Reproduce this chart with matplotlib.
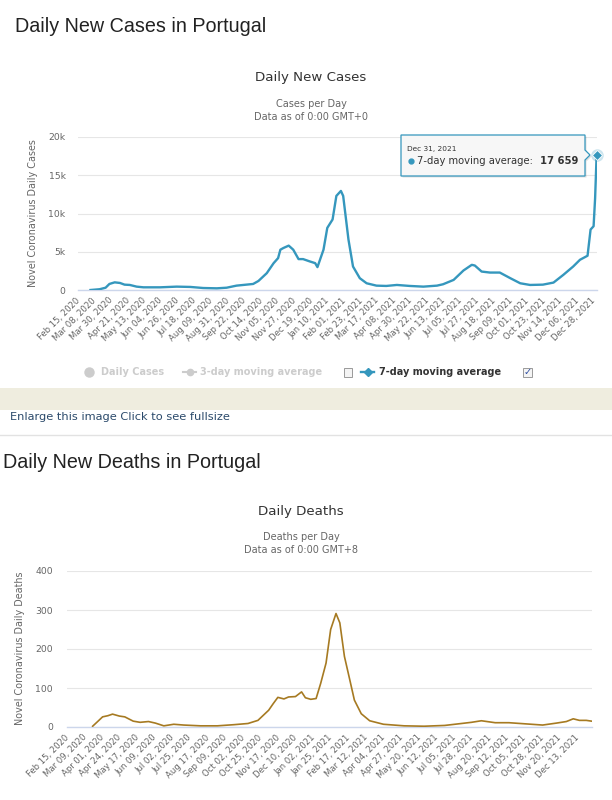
import matplotlib
matplotlib.use('Agg')
import matplotlib.pyplot as plt
import pandas as pd
from matplotlib.lines import Line2D
from matplotlib.patches import Rectangle, Polygon

W, H = 612, 800
START = pd.Timestamp('2020-02-15')
END = pd.Timestamp('2021-12-31')

# ---------------- data ----------------
case_dates = ["2020-03-02", "2020-03-14", "2020-03-22", "2020-03-27", "2020-04-03", "2020-04-10",
              "2020-04-16", "2020-04-23", "2020-05-02", "2020-05-11", "2020-06-02", "2020-06-24",
              "2020-07-12", "2020-07-29", "2020-08-16", "2020-08-29", "2020-09-11", "2020-10-03",
              "2020-10-10", "2020-10-21", "2020-10-30", "2020-11-05", "2020-11-08", "2020-11-12",
              "2020-11-19", "2020-11-25", "2020-12-02", "2020-12-08", "2020-12-17", "2020-12-24",
              "2020-12-27", "2021-01-04", "2021-01-09", "2021-01-16", "2021-01-21", "2021-01-27",
              "2021-01-30", "2021-02-06", "2021-02-12", "2021-02-21", "2021-03-02", "2021-03-15",
              "2021-03-28", "2021-04-11", "2021-04-28", "2021-05-16", "2021-06-03", "2021-06-11",
              "2021-06-25", "2021-07-08", "2021-07-19", "2021-07-23", "2021-08-01", "2021-08-12",
              "2021-08-25", "2021-09-08", "2021-09-21", "2021-10-04", "2021-10-21", "2021-11-04",
              "2021-11-17", "2021-11-30", "2021-12-09", "2021-12-19", "2021-12-23", "2021-12-27",
              "2021-12-29", "2021-12-31"]
case_values = [0, 100, 300, 790, 1000, 920, 700, 660, 440, 350, 350, 440,
               400, 260, 220, 300, 570, 790, 1180, 2200, 3500, 4170, 5270, 5490,
               5800, 5270, 4040, 4040, 3730, 3510, 2990, 5270, 8120, 9220, 12300, 12950,
               12300, 6590, 3070, 1540, 880, 570, 530, 660, 530, 440, 570, 750,
               1320, 2550, 3290, 3200, 2410, 2280, 2280, 1540, 880, 660, 700, 970,
               1980, 3070, 3950, 4480, 7900, 8340, 12000, 17659]

death_dates = ["2020-03-19", "2020-03-25", "2020-04-01", "2020-04-08", "2020-04-14", "2020-04-23",
               "2020-04-30", "2020-05-11", "2020-05-20", "2020-05-31", "2020-06-09", "2020-06-20",
               "2020-07-03", "2020-07-16", "2020-08-07", "2020-08-29", "2020-09-20", "2020-10-08",
               "2020-10-21", "2020-11-04", "2020-11-10", "2020-11-16", "2020-11-24", "2020-11-30",
               "2020-12-09", "2020-12-17", "2020-12-22", "2020-12-29", "2021-01-05", "2021-01-11",
               "2021-01-18", "2021-01-24", "2021-01-31", "2021-02-05", "2021-02-11", "2021-02-18",
               "2021-02-24", "2021-03-05", "2021-03-16", "2021-04-03", "2021-04-30", "2021-05-26",
               "2021-06-22", "2021-07-14", "2021-07-27", "2021-08-09", "2021-08-27", "2021-09-14",
               "2021-10-06", "2021-10-28", "2021-11-15", "2021-11-28", "2021-12-07", "2021-12-15",
               "2021-12-24", "2021-12-31"]
death_values = [2, 13, 26, 29, 33, 28, 26, 15, 12, 14, 10, 3,
                7, 5, 3, 3, 6, 9, 17, 43, 60, 76, 72, 77,
                78, 90, 75, 71, 73, 112, 164, 250, 291, 267, 181, 121,
                69, 34, 16, 7, 3, 2, 4, 9, 12, 16, 11, 11,
                8, 5, 10, 14, 21, 17, 17, 15]

case_tick_labels = ["Feb 15, 2020", "Mar 08, 2020", "Mar 30, 2020", "Apr 21, 2020", "May 13, 2020",
                    "Jun 04, 2020", "Jun 26, 2020", "Jul 18, 2020", "Aug 09, 2020", "Aug 31, 2020",
                    "Sep 22, 2020", "Oct 14, 2020", "Nov 05, 2020", "Nov 27, 2020", "Dec 19, 2020",
                    "Jan 10, 2021", "Feb 01, 2021", "Feb 23, 2021", "Mar 17, 2021", "Apr 08, 2021",
                    "Apr 30, 2021", "May 22, 2021", "Jun 13, 2021", "Jul 05, 2021", "Jul 27, 2021",
                    "Aug 18, 2021", "Sep 09, 2021", "Oct 01, 2021", "Oct 23, 2021", "Nov 14, 2021",
                    "Dec 06, 2021", "Dec 28, 2021"]
death_tick_labels = ["Feb 15, 2020", "Mar 09, 2020", "Apr 01, 2020", "Apr 24, 2020", "May 17, 2020",
                     "Jun 09, 2020", "Jul 02, 2020", "Jul 25, 2020", "Aug 17, 2020", "Sep 09, 2020",
                     "Oct 02, 2020", "Oct 25, 2020", "Nov 17, 2020", "Dec 10, 2020", "Jan 02, 2021",
                     "Jan 25, 2021", "Feb 17, 2021", "Mar 12, 2021", "Apr 04, 2021", "Apr 27, 2021",
                     "May 20, 2021", "Jun 12, 2021", "Jul 05, 2021", "Jul 28, 2021", "Aug 20, 2021",
                     "Sep 12, 2021", "Oct 05, 2021", "Oct 28, 2021", "Nov 20, 2021", "Dec 13, 2021"]

case_yticks = [0, 5000, 10000, 15000, 20000]
case_ytick_labels = ["0", "5k", "10k", "15k", "20k"]
death_yticks = [0, 100, 200, 300, 400]
death_ytick_labels = ["0", "100", "200", "300", "400"]

tooltip_date = "Dec 31, 2021"
tooltip_series = "7-day moving average: "
tooltip_value = "17 659"

# ---------------- style ----------------
CASE_COLOR = '#3597bd'
DEATH_COLOR = '#a67a22'
GRID = '#e6e6e6'
AXIS = '#ccd6eb'
TICK = '#666666'


def fx(x):
    return x / W


def fy(y):
    return 1 - y / H


def day_index(dates):
    return (pd.to_datetime(pd.Series(dates)) - START).dt.days.to_numpy()


def label_index(labels):
    return (pd.to_datetime(pd.Series(labels), format="%b %d, %Y") - START).dt.days.to_numpy()


ndays = (END - START).days

fig = plt.figure(figsize=(W / 100, H / 100), dpi=100)
fig.patch.set_facecolor('white')


def style_axis(ax, yticks, ylabels, xlabels, ymax, ypad):
    ax.set_xlim(-0.5, ndays + 0.5)
    ax.set_ylim(0, ymax)
    for s in ['top', 'right', 'left']:
        ax.spines[s].set_visible(False)
    ax.spines['bottom'].set_color(AXIS)
    ax.spines['bottom'].set_linewidth(1.0)
    ax.set_yticks(yticks)
    ax.set_yticklabels(ylabels, fontsize=6.7, color=TICK)
    ax.yaxis.grid(True, color=GRID, linewidth=0.8)
    ax.set_axisbelow(True)
    ax.tick_params(axis='y', length=0, pad=ypad)
    ax.set_xticks(label_index(xlabels))
    ax.set_xticklabels(xlabels, rotation=45, ha='right', va='center',
                       rotation_mode='anchor', fontsize=6.1, color=TICK)
    ax.tick_params(axis='x', length=0, pad=6.5)


# ---------------- page texts ----------------
fig.text(fx(15), fy(27), "Daily New Cases in Portugal", fontsize=14.2,
         family='Liberation Sans', color='#222222', ha='left', va='center')

fig.text(fx(311), fy(78), "Daily New Cases", fontsize=9.6, color='#333333', ha='center', va='center')
fig.text(fx(311), fy(104), "Cases per Day", fontsize=7.0, color='#666666', ha='center', va='center')
fig.text(fx(311), fy(117), "Data as of 0:00 GMT+0", fontsize=7.0, color='#666666', ha='center', va='center')
fig.text(fx(33), fy(213), "Novel Coronavirus Daily Cases", fontsize=6.9, color='#666666',
         rotation=90, ha='center', va='center')

# ---------------- cases chart ----------------
ax1 = fig.add_axes([fx(78), fy(290), fx(597) - fx(78), fy(137) - fy(290)])
style_axis(ax1, case_yticks, case_ytick_labels, case_tick_labels, 20000, 9)
cx = day_index(case_dates)
ax1.plot(cx, case_values, color=CASE_COLOR, linewidth=1.7, solid_joinstyle='round', zorder=3)
# hovered last point
ax1.plot(cx[-1], case_values[-1], marker='o', markersize=9, color=CASE_COLOR, alpha=0.25,
         markeredgewidth=0, zorder=4, clip_on=False)
ax1.plot(cx[-1], case_values[-1], marker='D', markersize=5, color=CASE_COLOR,
         markeredgecolor='white', markeredgewidth=0.6, zorder=5, clip_on=False)

# tooltip
tt = [(401, 135), (585, 135), (585, 150), (590, 155), (585, 160), (585, 176), (401, 176)]
shadow = Polygon([(fx(x + 1.5), fy(y + 1.5)) for x, y in tt], closed=True, transform=fig.transFigure,
                 facecolor='#000000', alpha=0.12, edgecolor='none', zorder=8)
box = Polygon([(fx(x), fy(y)) for x, y in tt], closed=True, transform=fig.transFigure,
              facecolor='#f7f7f7', edgecolor=CASE_COLOR, linewidth=0.9, zorder=9)
fig.add_artist(shadow)
fig.add_artist(box)
fig.text(fx(407), fy(149), tooltip_date, fontsize=5.3, color='#333333', ha='left', va='center', zorder=10)
fig.add_artist(Line2D([fx(411)], [fy(161)], marker='o', markersize=3.5, color=CASE_COLOR,
                      linestyle='none', transform=fig.transFigure, zorder=10))
fig.text(fx(417), fy(161), tooltip_series, fontsize=7.2, color='#333333', ha='left', va='center', zorder=10)
fig.text(fx(578), fy(161), tooltip_value, fontsize=7.2, fontweight='bold', color='#333333',
         ha='right', va='center', zorder=10)

# legend
LEG_Y = 372
GREY = '#cccccc'
fig.add_artist(Line2D([fx(89)], [fy(LEG_Y)], marker='o', markersize=6.5, color=GREY,
                      linestyle='none', transform=fig.transFigure))
fig.text(fx(101), fy(LEG_Y), "Daily Cases", fontsize=7.0, fontweight='bold', color=GREY,
         ha='left', va='center')
fig.add_artist(Line2D([fx(183), fx(196)], [fy(LEG_Y), fy(LEG_Y)], color=GREY, linewidth=1.5,
                      transform=fig.transFigure))
fig.add_artist(Line2D([fx(189.5)], [fy(LEG_Y)], marker='o', markersize=4.5, color=GREY,
                      linestyle='none', transform=fig.transFigure))
fig.text(fx(200), fy(LEG_Y), "3-day moving average", fontsize=7.0, fontweight='bold', color=GREY,
         ha='left', va='center')
fig.add_artist(Line2D([fx(361), fx(374)], [fy(LEG_Y), fy(LEG_Y)], color=CASE_COLOR, linewidth=1.7,
                      transform=fig.transFigure))
fig.add_artist(Line2D([fx(367.5)], [fy(LEG_Y)], marker='D', markersize=4.2, color=CASE_COLOR,
                      linestyle='none', transform=fig.transFigure))
fig.text(fx(379), fy(LEG_Y), "7-day moving average", fontsize=7.0, fontweight='bold', color='#333333',
         ha='left', va='center')
for cxp, checked in [(348, False), (527.5, True)]:
    fig.add_artist(Rectangle((fx(cxp - 4.5), fy(LEG_Y + 4.5)), 9 / W, 9 / H, transform=fig.transFigure,
                             facecolor='#f4f4f4', edgecolor='#9a9a9a', linewidth=0.7))
    if checked:
        fig.text(fx(cxp), fy(LEG_Y), "\u2713", fontsize=7, color='#2a4aa0', ha='center', va='center')

# page strip, link, separator
fig.add_artist(Rectangle((0, fy(410)), 1, 22 / H, transform=fig.transFigure,
                         facecolor='#efeddf', edgecolor='none', zorder=0))
fig.text(fx(10), fy(417), "Enlarge this image Click to see fullsize", fontsize=8.2,
         color='#2b4a6b', ha='left', va='center')
fig.add_artist(Line2D([0, 1], [fy(435), fy(435)], color='#e2e2e2', linewidth=1.0,
                      transform=fig.transFigure))

# ---------------- deaths chart ----------------
fig.text(fx(3), fy(463), "Daily New Deaths in Portugal", fontsize=14.2,
         family='Liberation Sans', color='#222222', ha='left', va='center')
fig.text(fx(301), fy(512), "Daily Deaths", fontsize=9.6, color='#333333', ha='center', va='center')
fig.text(fx(301), fy(537), "Deaths per Day", fontsize=7.0, color='#666666', ha='center', va='center')
fig.text(fx(301), fy(550), "Data as of 0:00 GMT+8", fontsize=7.0, color='#666666', ha='center', va='center')
fig.text(fx(20), fy(648), "Novel Coronavirus Daily Deaths", fontsize=6.9, color='#666666',
         rotation=90, ha='center', va='center')

ax2 = fig.add_axes([fx(67), fy(727), fx(592) - fx(67), fy(571) - fy(727)])
style_axis(ax2, death_yticks, death_ytick_labels, death_tick_labels, 400, 10)
ax2.plot(day_index(death_dates), death_values, color=DEATH_COLOR, linewidth=1.2,
         solid_joinstyle='round', zorder=3)

fig.savefig('out.png', dpi=100, facecolor='white')
